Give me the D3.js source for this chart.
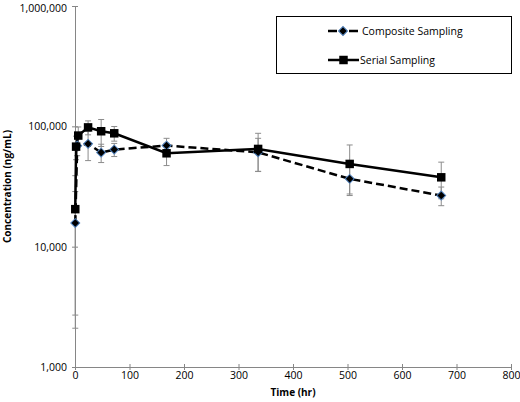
<!DOCTYPE html>
<html>
<head>
<meta charset="utf-8">
<script src="https://cdn.jsdelivr.net/npm/d3@7"></script>
<style>
  body { margin: 0; background: #fff; }
  text { font-family: "Open Sans", sans-serif; }
</style>
</head>
<body>
<svg id="chart" width="520" height="402"></svg>
<script>
// data
const compositeTime = [0.5, 4, 24, 48, 72, 168, 336, 504, 672];
const compositeConc = [15700, 69000, 71500, 60500, 64100, 69200, 60800, 36600, 26600];
const compositeSD   = [13000, 12000, 19600, 10500, 8000, 10300, 18700, 10000, 4700];

const serialTime = [0.5, 2, 6, 24, 48, 72, 168, 336, 504, 672];
const serialConc = [20500, 67800, 83800, 98000, 91000, 87500, 59700, 64900, 48700, 37700];
const serialSD   = [18400, 15000, 15000, 13000, 23000, 12200, 12500, 22600, 21300, 12700];

const xTicks = [0, 100, 200, 300, 400, 500, 600, 700, 800];
const yTicks = [1000, 10000, 100000, 1000000];

const svg = d3.select("#chart");
const margin = {left: 75, top: 6, right: 9, bottom: 35};
const W = 520, H = 402;

let x = d3.scaleLinear().domain([0, 800]).range([margin.left, W - margin.right]);
let y = d3.scaleLog().domain([1000, 1000000]).range([H - margin.bottom, margin.top]);

let serial = serialTime.map((t, i) => ({t: t, c: serialConc[i], sd: serialSD[i]}));
let composite = compositeTime.map((t, i) => ({t: t, c: compositeConc[i], sd: compositeSD[i]}));

// axes
let xAxis = d3.axisBottom(x).tickValues(xTicks).tickSize(0).tickPadding(5);
let yAxis = d3.axisLeft(y).tickValues(yTicks).tickSize(0).tickPadding(8)
    .tickFormat(d3.format(","));

let gx = svg.append("g")
    .attr("transform", "translate(0," + y(1000) + ")")
    .call(xAxis);
gx.select(".domain").attr("stroke", "#868686");
gx.selectAll(".tick").append("line")
    .attr("y1", -3).attr("y2", 3).attr("stroke", "#868686");
gx.selectAll("text").attr("font-size", 10.5).attr("fill", "#000");

let gy = svg.append("g")
    .attr("transform", "translate(" + x(0) + ",0)")
    .call(yAxis);
gy.select(".domain").attr("stroke", "#868686");
gy.selectAll(".tick").append("line")
    .attr("x1", -3).attr("x2", 3).attr("stroke", "#868686");
gy.selectAll("text").attr("font-size", 10.5).attr("fill", "#000");
// keep the top label inside the picture
gy.selectAll(".tick text").filter(d => d === 1000000).attr("dy", "0.5em");

// axis titles
svg.append("text")
    .attr("x", (x(0) + x(800)) / 2).attr("y", 396)
    .attr("text-anchor", "middle")
    .attr("font-size", 10).attr("font-weight", "bold")
    .text("Time (hr)");

svg.append("text")
    .attr("transform", "translate(11," + (y(1000) + y(1000000)) / 2 + ") rotate(-90)")
    .attr("text-anchor", "middle")
    .attr("font-size", 10).attr("font-weight", "bold")
    .text("Concentration (ng/mL)");

// error bars
function drawErrors(data) {
    let g = svg.append("g").attr("stroke", "#8c8c8c").attr("stroke-width", 1);
    data.forEach(d => {
        let lo = Math.max(d.c - d.sd, 1000);
        let hi = d.c + d.sd;
        g.append("line").attr("x1", x(d.t)).attr("x2", x(d.t))
            .attr("y1", y(lo)).attr("y2", y(hi));
        g.append("line").attr("x1", x(d.t) - 3).attr("x2", x(d.t) + 3)
            .attr("y1", y(hi)).attr("y2", y(hi));
        if (d.c - d.sd > 1000) {
            g.append("line").attr("x1", x(d.t) - 3).attr("x2", x(d.t) + 3)
                .attr("y1", y(lo)).attr("y2", y(lo));
        }
    });
}
drawErrors(composite);
drawErrors(serial);

let line = d3.line().x(d => x(d.t)).y(d => y(d.c));

svg.append("path").datum(composite)
    .attr("d", line).attr("fill", "none")
    .attr("stroke", "#000").attr("stroke-width", 2.5)
    .attr("stroke-dasharray", "8,4");

svg.append("path").datum(serial)
    .attr("d", line).attr("fill", "none")
    .attr("stroke", "#000").attr("stroke-width", 2.5);

let diamond = d3.symbol(d3.symbolSquare, 40);
let square = d3.symbol(d3.symbolSquare, 72);

svg.append("g").selectAll("path").data(composite).enter().append("path")
    .attr("d", diamond)
    .attr("transform", d => "translate(" + x(d.t) + "," + y(d.c) + ") rotate(45)")
    .attr("fill", "#000").attr("stroke", "#4f81bd").attr("stroke-width", 1);

svg.append("g").selectAll("path").data(serial).enter().append("path")
    .attr("d", square)
    .attr("transform", d => "translate(" + x(d.t) + "," + y(d.c) + ")")
    .attr("fill", "#000");

// legend
let leg = svg.append("g");
leg.append("rect").attr("x", 276.5).attr("y", 16.5).attr("width", 235).attr("height", 57)
    .attr("fill", "#fff").attr("stroke", "#000").attr("stroke-width", 1);

leg.append("line").attr("x1", 328).attr("x2", 358).attr("y1", 31).attr("y2", 31)
    .attr("stroke", "#000").attr("stroke-width", 2.5).attr("stroke-dasharray", "9,12");
leg.append("path").attr("d", diamond)
    .attr("transform", "translate(343,31) rotate(45)")
    .attr("fill", "#000").attr("stroke", "#4f81bd");
leg.append("text").attr("x", 362).attr("y", 35).attr("font-size", 10.5).text("Composite Sampling");

leg.append("line").attr("x1", 328).attr("x2", 359).attr("y1", 60).attr("y2", 60)
    .attr("stroke", "#000").attr("stroke-width", 2.5);
leg.append("path").attr("d", square)
    .attr("transform", "translate(343.5,60)").attr("fill", "#000");
leg.append("text").attr("x", 360).attr("y", 64).attr("font-size", 10.5).text("Serial Sampling");
</script>
</body>
</html>
